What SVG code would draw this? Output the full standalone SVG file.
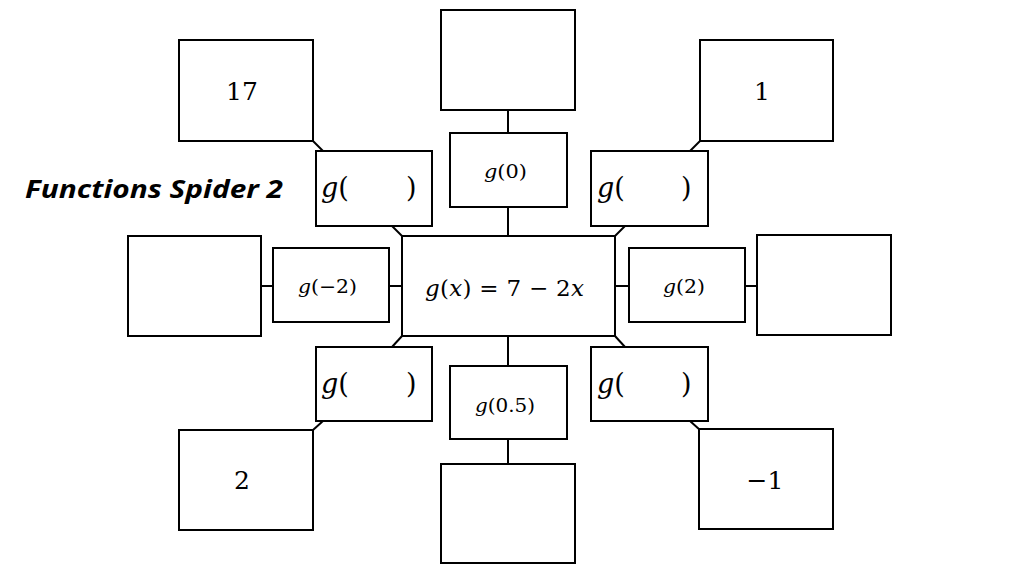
<svg xmlns="http://www.w3.org/2000/svg" width="1024" height="571" viewBox="0 0 1024 571">
<style>
.box{fill:#fff;stroke:#000;stroke-width:2}
.con{fill:none;stroke:#000;stroke-width:2}
.m{font-family:"DejaVu Serif","Liberation Serif",serif;fill:#000}
.i{font-style:italic}
.title{font-family:"Open Sans","Liberation Sans",sans-serif;font-weight:bold;font-style:italic;font-size:25px;fill:#000}
</style>
<rect width="1024" height="571" fill="#fff"/>
<g id="connectors">
<line class="con" x1="508" y1="110" x2="508" y2="133"/>
<line class="con" x1="508" y1="207" x2="508" y2="236"/>
<line class="con" x1="508" y1="336" x2="508" y2="366"/>
<line class="con" x1="508" y1="439" x2="508" y2="464"/>
<line class="con" x1="261" y1="286" x2="273" y2="286"/>
<line class="con" x1="389" y1="286" x2="402" y2="286"/>
<line class="con" x1="615" y1="286" x2="629" y2="286"/>
<line class="con" x1="745" y1="286" x2="757" y2="286"/>
<line class="con" x1="313" y1="141" x2="323" y2="151"/>
<line class="con" x1="392" y1="226" x2="402" y2="236"/>
<line class="con" x1="700" y1="141" x2="690" y2="151"/>
<line class="con" x1="625" y1="226" x2="615" y2="236"/>
<line class="con" x1="402" y1="336" x2="392" y2="347"/>
<line class="con" x1="323" y1="421" x2="313" y2="430"/>
<line class="con" x1="615" y1="336" x2="625" y2="347"/>
<line class="con" x1="690" y1="421" x2="700" y2="430"/>
</g>
<text class="title" x="25" y="198" textLength="258" lengthAdjust="spacingAndGlyphs">Functions Spider 2</text>
<g id="center"><rect class="box" x="402" y="236" width="213" height="100"/>
<text class="m" x="425" y="296" font-size="23" textLength="159" lengthAdjust="spacing"><tspan class="i">g</tspan>(<tspan class="i">x</tspan>) = 7 − 2<tspan class="i">x</tspan></text></g>
<g id="g0"><rect class="box" x="450" y="133" width="117" height="74"/>
<text class="m" x="484" y="178" font-size="19" textLength="43" lengthAdjust="spacingAndGlyphs"><tspan class="i">g</tspan>(0)</text></g>
<g id="g05"><rect class="box" x="450" y="366" width="117" height="73"/>
<text class="m" x="475" y="412" font-size="19" textLength="60" lengthAdjust="spacingAndGlyphs"><tspan class="i">g</tspan>(0.5)</text></g>
<g id="gm2"><rect class="box" x="273" y="248" width="116" height="74"/>
<text class="m" x="298" y="293" font-size="19" textLength="59" lengthAdjust="spacingAndGlyphs"><tspan class="i">g</tspan>(−2)</text></g>
<g id="g2"><rect class="box" x="629" y="248" width="116" height="74"/>
<text class="m" x="663" y="293" font-size="19" textLength="42" lengthAdjust="spacingAndGlyphs"><tspan class="i">g</tspan>(2)</text></g>
<g id="gtl"><rect class="box" x="316" y="151" width="116" height="75"/>
<text class="m" x="321" y="197" font-size="27"><tspan class="i">g</tspan>(</text><text class="m" x="406" y="197" font-size="27">)</text></g>
<g id="gtr"><rect class="box" x="591" y="151" width="117" height="75"/>
<text class="m" x="597" y="197" font-size="27"><tspan class="i">g</tspan>(</text><text class="m" x="681" y="197" font-size="27">)</text></g>
<g id="gbl"><rect class="box" x="316" y="347" width="116" height="74"/>
<text class="m" x="321" y="393" font-size="27"><tspan class="i">g</tspan>(</text><text class="m" x="406" y="393" font-size="27">)</text></g>
<g id="gbr"><rect class="box" x="591" y="347" width="117" height="74"/>
<text class="m" x="597" y="393" font-size="27"><tspan class="i">g</tspan>(</text><text class="m" x="681" y="393" font-size="27">)</text></g>
<g id="top"><rect class="box" x="441" y="10" width="134" height="100"/></g>
<g id="bottom"><rect class="box" x="441" y="464" width="134" height="99"/></g>
<g id="left"><rect class="box" x="128" y="236" width="133" height="100"/></g>
<g id="right"><rect class="box" x="757" y="235" width="134" height="100"/></g>
<g id="tl"><rect class="box" x="179" y="40" width="134" height="101"/>
<text class="m" x="242" y="100" font-size="25" text-anchor="middle">17</text></g>
<g id="tr"><rect class="box" x="700" y="40" width="133" height="101"/>
<text class="m" x="762" y="100" font-size="25" text-anchor="middle">1</text></g>
<g id="bl"><rect class="box" x="179" y="430" width="134" height="100"/>
<text class="m" x="242" y="489" font-size="25" text-anchor="middle">2</text></g>
<g id="br"><rect class="box" x="699" y="429" width="134" height="100"/>
<text class="m" x="765" y="489" font-size="25" text-anchor="middle">−1</text></g>
</svg>
